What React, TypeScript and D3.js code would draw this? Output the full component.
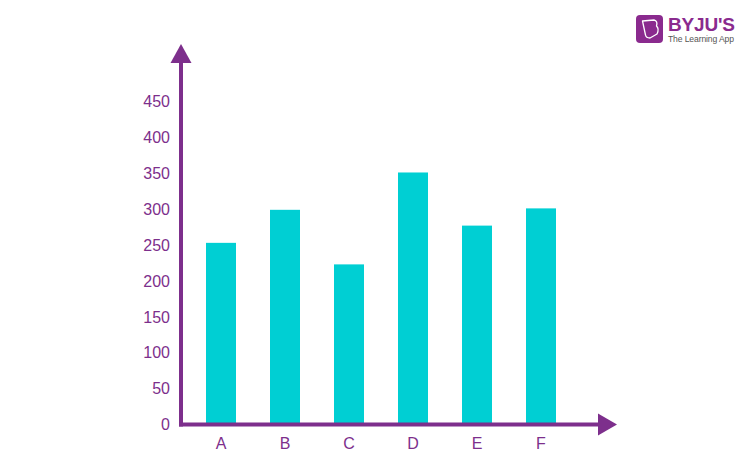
import React from "react";
import * as d3 from "d3";

const categories = ["A", "B", "C", "D", "E", "F"];
const values = [253, 299, 223, 351, 277, 301];
const yTicks = [0, 50, 100, 150, 200, 250, 300, 350, 400, 450];

const PURPLE = "#7d2f8c";
const CYAN = "#00cfd3";

export default function App() {
  const W = 750, H = 473;
  const y = d3.scaleLinear().domain([0, 450]).range([424.5, 101.4]);
  const x = d3
    .scaleBand<string>()
    .domain(categories)
    .range([189, 573])
    .paddingInner(0.53125)
    .paddingOuter(0.265625);

  const axX = 181;
  const axY = y(0);
  const font = "'Liberation Sans', Arial, sans-serif";

  return (
    <svg
      width={W}
      height={H}
      style={{ position: "absolute", left: 0, top: 0, background: "#fff" }}
    >
      {/* bars */}
      {categories.map((c, i) => (
        <rect
          key={c}
          x={x(c)}
          y={y(values[i])}
          width={x.bandwidth()}
          height={axY - y(values[i])}
          fill={CYAN}
        />
      ))}
      {/* axes */}
      <line x1={axX} x2={axX} y1={62} y2={axY + 2} stroke={PURPLE} strokeWidth={4} />
      <polygon points={`${axX},44 ${axX - 10.5},63 ${axX + 10.5},63`} fill={PURPLE} />
      <line x1={axX - 2} x2={599} y1={axY} y2={axY} stroke={PURPLE} strokeWidth={4} />
      <polygon points={`617,${axY} 598,${axY - 11} 598,${axY + 11}`} fill={PURPLE} />
      {/* y tick labels */}
      {yTicks.map((t) => (
        <text
          key={t}
          x={170}
          y={y(t)}
          dy="0.36em"
          textAnchor="end"
          fontFamily={font}
          fontSize={16}
          fill={PURPLE}
        >
          {t}
        </text>
      ))}
      {/* x labels */}
      {categories.map((c) => (
        <text
          key={c}
          x={(x(c) as number) + x.bandwidth() / 2}
          y={449}
          textAnchor="middle"
          fontFamily={font}
          fontSize={16}
          fill={PURPLE}
        >
          {c}
        </text>
      ))}
      {/* logo */}
      <g>
        <rect x={636} y={15} width={27} height={28} rx={4} fill="#8a2a8e" />
        <path
          d="M642.5,21 L654,20 Q658,21 656.5,26 Q659.5,29 657,34 L650,38 Q646,38 645.5,35 Z"
          fill="none"
          stroke="#fff"
          strokeWidth={1.3}
          strokeLinejoin="round"
        />
        <text
          x={668}
          y={30.5}
          fontFamily={font}
          fontWeight="bold"
          fontSize={19}
          fill="#8a2a8e"
          textLength={67}
        >
          BYJU'S
        </text>
        <text
          x={668}
          y={41.5}
          fontFamily={font}
          fontSize={8.6}
          fill="#555"
          textLength={66}
        >
          The Learning App
        </text>
      </g>
    </svg>
  );
}
